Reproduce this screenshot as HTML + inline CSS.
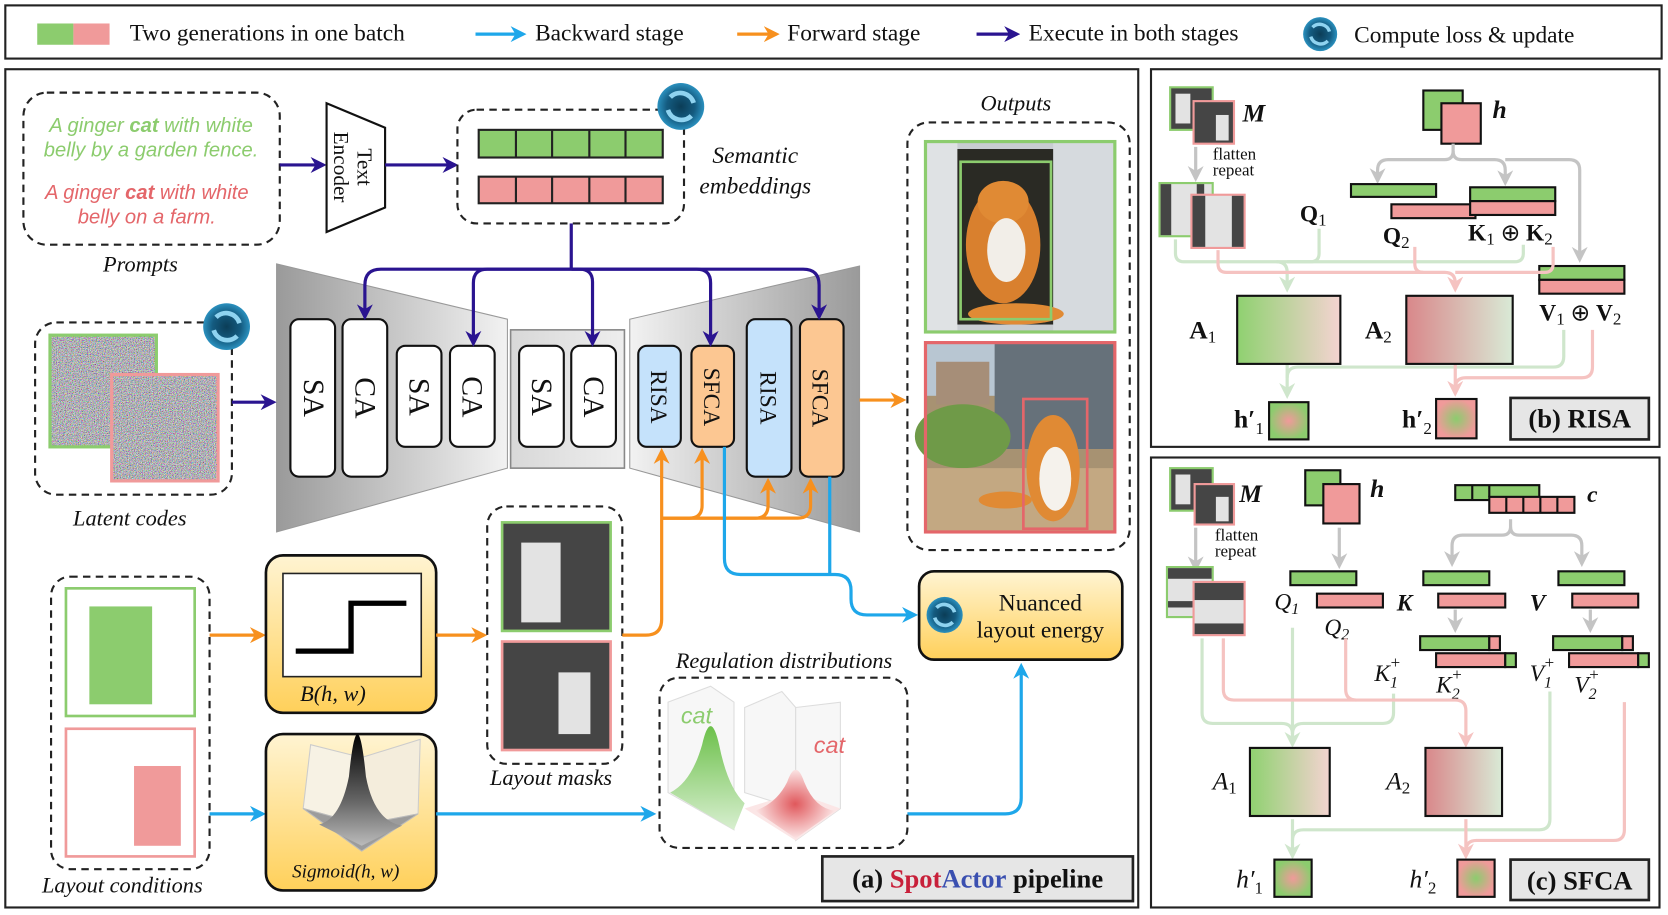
<!DOCTYPE html>
<html><head><meta charset="utf-8"><style>
html,body{margin:0;padding:0;background:#fff;width:1668px;height:915px;overflow:hidden}
svg{display:block}
text{font-family:"Liberation Serif",serif;fill:#111}
.it{font-style:italic}
.hand{font-family:"Liberation Sans",sans-serif;font-style:italic}
</style></head><body>
<svg width="1668" height="915" viewBox="0 0 1568 860" xmlns="http://www.w3.org/2000/svg">
<defs>
<marker id="mn" viewBox="0 0 10 10" refX="8" refY="5" markerWidth="5" markerHeight="5" orient="auto-start-reverse"><path d="M0,0L10,5L0,10L3,5z" fill="#2a1490"/></marker>
<marker id="mo" viewBox="0 0 10 10" refX="8" refY="5" markerWidth="5" markerHeight="5" orient="auto-start-reverse"><path d="M0,0L10,5L0,10L3,5z" fill="#f7901e"/></marker>
<marker id="mb" viewBox="0 0 10 10" refX="8" refY="5" markerWidth="5" markerHeight="5" orient="auto-start-reverse"><path d="M0,0L10,5L0,10L3,5z" fill="#1ea7ea"/></marker>
<marker id="mg" viewBox="0 0 10 10" refX="8" refY="5" markerWidth="5" markerHeight="5" orient="auto-start-reverse"><path d="M0,0L10,5L0,10L3,5z" fill="#c4c4c4"/></marker>
<marker id="mlg" viewBox="0 0 10 10" refX="8" refY="5" markerWidth="5" markerHeight="5" orient="auto-start-reverse"><path d="M0,0L10,5L0,10L3,5z" fill="#cfe6cc"/></marker>
<marker id="mlp" viewBox="0 0 10 10" refX="8" refY="5" markerWidth="5" markerHeight="5" orient="auto-start-reverse"><path d="M0,0L10,5L0,10L3,5z" fill="#f5c3c1"/></marker>
<linearGradient id="gl" x1="0" x2="1"><stop offset="0" stop-color="#9a9a9a"/><stop offset="1" stop-color="#f2f2f2"/></linearGradient>
<linearGradient id="gr" x1="1" x2="0"><stop offset="0" stop-color="#9a9a9a"/><stop offset="1" stop-color="#f2f2f2"/></linearGradient>
<linearGradient id="gm" x1="0" x2="1"><stop offset="0" stop-color="#d8d8d8"/><stop offset="1" stop-color="#eeeeee"/></linearGradient>
<linearGradient id="gy" x1="0" y1="0" x2="0" y2="1"><stop offset="0" stop-color="#fff4d2"/><stop offset="1" stop-color="#ffd05a"/></linearGradient>
<linearGradient id="ga1" x1="0" x2="1"><stop offset="0" stop-color="#8fd170"/><stop offset="1" stop-color="#f4d3d1"/></linearGradient>
<linearGradient id="ga2" x1="0" x2="1"><stop offset="0" stop-color="#d9878a"/><stop offset="1" stop-color="#d9ead6"/></linearGradient>
<radialGradient id="rh1"><stop offset="0" stop-color="#f09a9a"/><stop offset="1" stop-color="#8ccc6e"/></radialGradient>
<radialGradient id="rh2"><stop offset="0" stop-color="#8ccc6e"/><stop offset="1" stop-color="#f09a9a"/></radialGradient>
<radialGradient id="ric"><stop offset="0" stop-color="#0b3d57"/><stop offset="0.6" stop-color="#145b80"/><stop offset="1" stop-color="#2b91bf"/></radialGradient>
<linearGradient id="gpk" x1="0" y1="0" x2="0" y2="1"><stop offset="0" stop-color="#000"/><stop offset="0.6" stop-color="#666"/><stop offset="1" stop-color="#bbb"/></linearGradient>
<linearGradient id="ggr" x1="0" y1="0" x2="0" y2="1"><stop offset="0" stop-color="#6cc04a"/><stop offset="1" stop-color="#d8efd0"/></linearGradient>
<radialGradient id="gpr"><stop offset="0" stop-color="#e0585c"/><stop offset="1" stop-color="#fbe4e4"/></radialGradient>
<filter id="noise" x="0" y="0" width="100%" height="100%"><feTurbulence type="fractalNoise" baseFrequency="1.2" numOctaves="1" seed="3"/><feColorMatrix type="matrix" values="1.8 0 0 0 -0.45  0 1.8 0 0 -0.45  0 0 1.8 0 -0.42  0 0 0 0 1"/></filter>
<g id="icon"><circle r="20" fill="url(#ric)"/><path d="M-9,-8 A12,12 0 0 1 11,-3" stroke="#8fd3f0" stroke-width="4" fill="none"/><path d="M9,8 A12,12 0 0 1 -11,3" stroke="#8fd3f0" stroke-width="4" fill="none"/></g>
</defs>

<!-- legend -->
<rect x="5" y="5" width="1557" height="50" fill="#fff" stroke="#222" stroke-width="2"/>
<rect x="35" y="22" width="34" height="20" fill="#8ccc6e"/><rect x="69" y="22" width="34" height="20" fill="#f09a9a"/>
<text x="122" y="38" font-size="22">Two generations in one batch</text>
<line x1="447" y1="32" x2="492" y2="32" stroke="#1ea7ea" stroke-width="3" marker-end="url(#mb)"/>
<text x="503" y="38" font-size="22">Backward stage</text>
<line x1="693" y1="32" x2="730" y2="32" stroke="#f7901e" stroke-width="3" marker-end="url(#mo)"/>
<text x="740" y="38" font-size="22">Forward stage</text>
<line x1="918" y1="32" x2="956" y2="32" stroke="#2a1490" stroke-width="3" marker-end="url(#mn)"/>
<text x="967" y="38" font-size="22">Execute in both stages</text>
<use href="#icon" transform="translate(1241,32) scale(0.8)"/>
<text x="1273" y="40" font-size="22">Compute loss &amp; update</text>

<!-- panels -->
<rect x="5" y="65" width="1065" height="788" fill="none" stroke="#222" stroke-width="2"/>
<rect x="1082" y="65" width="478" height="355" fill="none" stroke="#222" stroke-width="2"/>
<rect x="1082" y="430" width="478" height="423" fill="none" stroke="#222" stroke-width="2"/>

<!-- prompts -->
<rect x="22" y="87" width="241" height="143" rx="22" fill="none" stroke="#222" stroke-width="2" stroke-dasharray="7,5"/>
<text x="142" y="124" font-size="19" class="hand" text-anchor="middle" style="fill:#8ccc6e">A ginger <tspan font-weight="bold">cat</tspan> with white</text>
<text x="142" y="147" font-size="19" class="hand" text-anchor="middle" style="fill:#8ccc6e">belly by a garden fence.</text>
<text x="138" y="187" font-size="19" class="hand" text-anchor="middle" style="fill:#e4666a">A ginger <tspan font-weight="bold">cat</tspan> with white</text>
<text x="138" y="210" font-size="19" class="hand" text-anchor="middle" style="fill:#e4666a">belly on a farm.</text>
<text x="132" y="255" font-size="21" class="it" text-anchor="middle">Prompts</text>
<line x1="263" y1="155" x2="304" y2="155" stroke="#2a1490" stroke-width="3" marker-end="url(#mn)"/>
<polygon points="307,97 362,120 362,195 307,218" fill="#fff" stroke="#111" stroke-width="2"/>
<text transform="translate(333,157) rotate(90)" font-size="20" text-anchor="middle"><tspan x="0" dy="-3">Text</tspan><tspan x="0" dy="22">Encoder</tspan></text>
<line x1="362" y1="155" x2="428" y2="155" stroke="#2a1490" stroke-width="3" marker-end="url(#mn)"/>

<!-- semantic embeddings -->
<rect x="430" y="103" width="213" height="107" rx="18" fill="none" stroke="#222" stroke-width="2" stroke-dasharray="7,5"/>
<g stroke="#222" stroke-width="2"><rect x="450" y="122" width="173" height="26" fill="#8ccc6e"/><rect x="450" y="166" width="173" height="25" fill="#f09a9a"/>
<path d="M485,122v26M519,122v26M554,122v26M588,122v26M485,166v25M519,166v25M554,166v25M588,166v25"/></g>
<use href="#icon" transform="translate(640,100) scale(1.1)"/>
<text x="710" y="153" font-size="22" class="it" text-anchor="middle">Semantic</text>
<text x="710" y="182" font-size="22" class="it" text-anchor="middle">embeddings</text>

<!-- UNet -->
<polygon points="260,248 477,300 477,440 260,500" fill="url(#gl)" stroke="#999"/>
<rect x="480" y="310" width="107" height="130" fill="url(#gm)" stroke="#888" stroke-width="1.5"/>
<polygon points="592,300 808,250 808,500 592,440" fill="url(#gr)" stroke="#999"/>
<g stroke="#111" stroke-width="2">
<rect x="273" y="300" width="42" height="148" rx="8" fill="#fff"/>
<rect x="322" y="300" width="42" height="148" rx="8" fill="#fff"/>
<rect x="373" y="325" width="42" height="95" rx="8" fill="#fff"/>
<rect x="423" y="325" width="42" height="95" rx="8" fill="#fff"/>
<rect x="488" y="325" width="42" height="95" rx="8" fill="#fff"/>
<rect x="537" y="325" width="42" height="95" rx="8" fill="#fff"/>
<rect x="600" y="325" width="40" height="95" rx="8" fill="#c5e2fb"/>
<rect x="650" y="325" width="40" height="95" rx="8" fill="#fcc792"/>
<rect x="702" y="300" width="42" height="148" rx="8" fill="#c5e2fb"/>
<rect x="752" y="300" width="41" height="148" rx="8" fill="#fcc792"/>
</g>
<g font-size="28">
<text transform="translate(286,374) rotate(90)" text-anchor="middle">SA</text>
<text transform="translate(334,374) rotate(90)" text-anchor="middle">CA</text>
<text transform="translate(385,373) rotate(90)" text-anchor="middle">SA</text>
<text transform="translate(435,373) rotate(90)" text-anchor="middle">CA</text>
<text transform="translate(500,373) rotate(90)" text-anchor="middle">SA</text>
<text transform="translate(549,373) rotate(90)" text-anchor="middle">CA</text>
</g>
<g font-size="22">
<text transform="translate(612,373) rotate(90)" text-anchor="middle">RISA</text>
<text transform="translate(662,373) rotate(90)" text-anchor="middle">SFCA</text>
<text transform="translate(715,374) rotate(90)" text-anchor="middle">RISA</text>
<text transform="translate(764,374) rotate(90)" text-anchor="middle">SFCA</text>
</g>
<g stroke="#2a1490" stroke-width="3" fill="none">
<path d="M537,210V253"/>
<path d="M537,253H358q-15,0 -15,15V298" marker-end="url(#mn)"/>
<path d="M537,253H458q-13,0 -13,13V323" marker-end="url(#mn)"/>
<path d="M537,253H545q12,0 12,12V323" marker-end="url(#mn)"/>
<path d="M537,253H655q13,0 13,13V323" marker-end="url(#mn)"/>
<path d="M537,253H755q15,0 15,15V298" marker-end="url(#mn)"/>
</g>

<!-- latent codes -->
<rect x="33" y="303" width="185" height="162" rx="20" fill="none" stroke="#222" stroke-width="2" stroke-dasharray="7,5"/>
<rect x="47" y="315" width="100" height="105" filter="url(#noise)"/><rect x="47" y="315" width="100" height="105" fill="none" stroke="#8ccc6e" stroke-width="3"/>
<rect x="105" y="352" width="100" height="100" filter="url(#noise)"/><rect x="105" y="352" width="100" height="100" fill="none" stroke="#f09a9a" stroke-width="3"/>
<use href="#icon" transform="translate(213,307) scale(1.1)"/>
<text x="122" y="494" font-size="21" class="it" text-anchor="middle">Latent codes</text>
<line x1="218" y1="378" x2="257" y2="378" stroke="#2a1490" stroke-width="3" marker-end="url(#mn)"/>
<line x1="808" y1="376" x2="849" y2="376" stroke="#f7901e" stroke-width="3" marker-end="url(#mo)"/>

<!-- outputs -->
<text x="955" y="104" font-size="21" class="it" text-anchor="middle">Outputs</text>
<rect x="853" y="115" width="209" height="402" rx="20" fill="none" stroke="#222" stroke-width="2" stroke-dasharray="7,5"/>
<rect x="870" y="133" width="178" height="179" fill="#c9cdd2"/>
<rect x="870" y="133" width="30" height="179" fill="#dfe2e4"/><rect x="990" y="133" width="58" height="179" fill="#d6dade"/>
<rect x="900" y="140" width="90" height="165" fill="#2a2a24"/>
<ellipse cx="943" cy="230" rx="35" ry="55" fill="#d9802e"/><ellipse cx="943" cy="190" rx="24" ry="20" fill="#e08a34"/><ellipse cx="946" cy="235" rx="18" ry="30" fill="#f2eee8"/>
<ellipse cx="955" cy="295" rx="45" ry="10" fill="#e08a34"/>
<rect x="870" y="133" width="178" height="179" fill="none" stroke="#8ccc6e" stroke-width="3"/>
<rect x="903" y="152" width="85" height="148" fill="none" stroke="#8ccc6e" stroke-width="2.5"/>
<rect x="870" y="322" width="178" height="178" fill="#a79272"/>
<rect x="870" y="322" width="178" height="50" fill="#b8c6d2"/><rect x="935" y="322" width="113" height="100" fill="#66717a"/>
<rect x="880" y="340" width="50" height="40" fill="#a68e78"/><ellipse cx="905" cy="410" rx="45" ry="30" fill="#6f9a48"/>
<rect x="870" y="440" width="178" height="60" fill="#c3a882"/>
<ellipse cx="990" cy="440" rx="25" ry="50" fill="#e08a34"/><ellipse cx="992" cy="450" rx="15" ry="30" fill="#f5f2ec"/><ellipse cx="945" cy="470" rx="25" ry="8" fill="#e08a34"/>
<rect x="870" y="322" width="178" height="178" fill="none" stroke="#e4666a" stroke-width="3"/>
<rect x="962" y="375" width="60" height="122" fill="none" stroke="#e4666a" stroke-width="2.5"/>

<!-- layout conditions -->
<rect x="48" y="542" width="149" height="275" rx="18" fill="none" stroke="#222" stroke-width="2" stroke-dasharray="7,5"/>
<rect x="62" y="553" width="121" height="120" fill="#fff" stroke="#8ccc6e" stroke-width="2.5"/>
<rect x="84" y="570" width="59" height="92" fill="#8ccc6e"/>
<rect x="62" y="685" width="121" height="120" fill="#fff" stroke="#f09a9a" stroke-width="2.5"/>
<rect x="126" y="720" width="44" height="75" fill="#f09a9a"/>
<text x="115" y="839" font-size="21" class="it" text-anchor="middle">Layout conditions</text>

<line x1="197" y1="597" x2="247" y2="597" stroke="#f7901e" stroke-width="3" marker-end="url(#mo)"/>
<line x1="197" y1="765" x2="247" y2="765" stroke="#1ea7ea" stroke-width="3" marker-end="url(#mb)"/>
<rect x="250" y="522" width="160" height="148" rx="16" fill="url(#gy)" stroke="#111" stroke-width="2.5"/>
<rect x="266" y="539" width="130" height="97" fill="#fff" stroke="#222" stroke-width="1.5"/>
<path d="M278,612H330V567H382" stroke="#000" stroke-width="5" fill="none"/>
<text x="313" y="659" font-size="21" class="it" text-anchor="middle">B(h, w)</text>
<line x1="410" y1="597" x2="455" y2="597" stroke="#f7901e" stroke-width="3" marker-end="url(#mo)"/>

<rect x="250" y="690" width="160" height="147" rx="16" fill="url(#gy)" stroke="#111" stroke-width="2.5"/>
<polygon points="285,760 292,700 340,712 340,775" fill="#f7f2e4" stroke="#ccc"/>
<polygon points="340,712 395,695 393,765 340,775" fill="#f4eddc" stroke="#ccc"/>
<polygon points="285,760 340,775 393,765 340,800" fill="#9c9c9c" stroke="#bbb"/>
<path d="M300,775 Q320,770 328,730 Q336,650 344,730 Q352,772 378,776 L340,795 Z" fill="url(#gpk)"/>
<text x="325" y="825" font-size="18" class="it" text-anchor="middle">Sigmoid(h, w)</text>
<line x1="410" y1="765" x2="614" y2="765" stroke="#1ea7ea" stroke-width="3" marker-end="url(#mb)"/>

<!-- layout masks -->
<rect x="458" y="476" width="127" height="242" rx="18" fill="none" stroke="#222" stroke-width="2" stroke-dasharray="7,5"/>
<rect x="472" y="491" width="102" height="102" fill="#454545" stroke="#8ccc6e" stroke-width="2.5"/>
<rect x="490" y="510" width="37" height="75" fill="#e3e3e3"/>
<rect x="472" y="603" width="102" height="102" fill="#454545" stroke="#f09a9a" stroke-width="2.5"/>
<rect x="525" y="632" width="30" height="58" fill="#e3e3e3"/>
<text x="518" y="738" font-size="21" class="it" text-anchor="middle">Layout masks</text>

<!-- orange feedback -->
<g stroke="#f7901e" stroke-width="3" fill="none">
<path d="M585,597h22q15,0 15,-15V424" marker-end="url(#mo)"/>
<path d="M622,487H648q12,0 12,-12V424" marker-end="url(#mo)"/>
<path d="M622,487H710q12,0 12,-12V452" marker-end="url(#mo)"/>
<path d="M622,487H750q12,0 12,-12V452" marker-end="url(#mo)"/>
</g>
<!-- blue backward -->
<g stroke="#1ea7ea" stroke-width="3" fill="none">
<path d="M681,420V525q0,15 15,15H785q15,0 15,15V563q0,15 15,15H860" marker-end="url(#mb)"/>
<path d="M780,448V540"/>
<path d="M853,765H945q15,0 15,-15V626" marker-end="url(#mb)"/>
</g>
<rect x="864" y="537" width="191" height="83" rx="14" fill="url(#gy)" stroke="#111" stroke-width="2.5"/>
<use href="#icon" transform="translate(888,578) scale(0.85)"/>
<text x="978" y="574" font-size="22" text-anchor="middle">Nuanced</text>
<text x="978" y="599" font-size="22" text-anchor="middle">layout energy</text>

<!-- regulation distributions -->
<text x="737" y="628" font-size="21" class="it" text-anchor="middle">Regulation distributions</text>
<rect x="620" y="637" width="233" height="160" rx="18" fill="none" stroke="#222" stroke-width="2" stroke-dasharray="7,5"/>
<g stroke="#ddd" stroke-width="1" fill="#f7f7f7">
<polygon points="628,660 668,645 690,660 690,780 628,745"/>
<polygon points="700,665 735,650 748,665 748,760 700,745"/>
<polygon points="748,665 790,660 790,760 748,790"/>
</g>
<path d="M630,745 Q650,735 660,700 Q668,665 676,700 Q684,740 700,755 L690,780 Z" fill="url(#ggr)"/>
<text x="640" y="680" font-size="22" class="hand" style="fill:#8ccc6e">cat</text>
<polygon points="700,760 748,745 790,760 748,790" fill="#fbe6e6"/>
<path d="M710,762 Q730,755 740,735 Q748,712 756,735 Q766,760 785,762 L748,788 Z" fill="url(#gpr)"/>
<text x="765" y="708" font-size="22" class="hand" style="fill:#e4666a">cat</text>

<rect x="773" y="805" width="292" height="42" fill="#e6e6e6" stroke="#222" stroke-width="2.5"/>
<text x="919" y="834" font-size="25" font-weight="bold" text-anchor="middle">(a) <tspan style="fill:#c8203a">Spot</tspan><tspan style="fill:#3a4fb0">Actor</tspan> pipeline</text>

<!-- ===== panel b ===== -->
<g stroke-width="2">
<rect x="1100" y="82" width="40" height="40" fill="#454545" stroke="#8ccc6e"/><rect x="1105" y="88" width="14" height="28" fill="#e3e3e3"/>
<rect x="1122" y="95" width="38" height="40" fill="#454545" stroke="#f09a9a"/><rect x="1143" y="108" width="12" height="24" fill="#e3e3e3"/>
</g>
<text x="1168" y="114" font-size="24" font-weight="bold" class="it">M</text>
<line x1="1124" y1="138" x2="1124" y2="168" stroke="#c4c4c4" stroke-width="3" marker-end="url(#mg)"/>
<text x="1140" y="150" font-size="16">flatten</text><text x="1140" y="165" font-size="16">repeat</text>
<rect x="1090" y="172" width="50" height="50" fill="#e3e3e3" stroke="#8ccc6e" stroke-width="2"/><rect x="1091" y="173" width="10" height="48" fill="#454545"/><rect x="1125" y="173" width="7" height="10" fill="#454545"/>
<rect x="1120" y="183" width="50" height="50" fill="#e3e3e3" stroke="#f09a9a" stroke-width="2"/><rect x="1121" y="184" width="12" height="48" fill="#454545"/><rect x="1158" y="184" width="11" height="48" fill="#454545"/>
<rect x="1338" y="85" width="37" height="37" fill="#8ccc6e" stroke="#111" stroke-width="2"/><rect x="1355" y="97" width="37" height="38" fill="#f09a9a" stroke="#111" stroke-width="2"/>
<text x="1403" y="111" font-size="24" font-weight="bold" class="it">h</text>
<g stroke="#c4c4c4" stroke-width="3" fill="none">
<path d="M1366,135V142q0,8 -8,8H1305q-10,0 -10,10V170" marker-end="url(#mg)"/>
<path d="M1366,142q0,8 8,8H1405q10,0 10,10V172" marker-end="url(#mg)"/>
<path d="M1415,150H1475q10,0 10,10V244" marker-end="url(#mg)"/>
</g>
<rect x="1270" y="173" width="80" height="12" fill="#8ccc6e" stroke="#111" stroke-width="2"/>
<rect x="1308" y="192" width="79" height="13" fill="#f09a9a" stroke="#111" stroke-width="2"/>
<rect x="1382" y="176" width="80" height="13" fill="#8ccc6e" stroke="#111" stroke-width="2"/><rect x="1382" y="189" width="80" height="13" fill="#f09a9a" stroke="#111" stroke-width="2"/>
<text x="1222" y="208" font-size="22" font-weight="bold">Q<tspan font-size="16" dy="4" font-weight="normal">1</tspan></text>
<text x="1300" y="229" font-size="22" font-weight="bold">Q<tspan font-size="16" dy="4" font-weight="normal">2</tspan></text>
<text x="1380" y="226" font-size="22" font-weight="bold">K<tspan font-size="16" dy="4" font-weight="normal">1</tspan><tspan dy="-4" font-weight="normal"> ⊕ </tspan>K<tspan font-size="16" dy="4" font-weight="normal">2</tspan></text>
<rect x="1447" y="250" width="80" height="13" fill="#8ccc6e" stroke="#111" stroke-width="2"/><rect x="1447" y="263" width="80" height="13" fill="#f09a9a" stroke="#111" stroke-width="2"/>
<text x="1447" y="301" font-size="22" font-weight="bold">V<tspan font-size="16" dy="4" font-weight="normal">1</tspan><tspan dy="-4" font-weight="normal"> ⊕ </tspan>V<tspan font-size="16" dy="4" font-weight="normal">2</tspan></text>
<g stroke-width="3" fill="none">
<path d="M1105,225V238q0,8 8,8H1200q10,0 10,10V272" stroke="#cfe6cc" marker-end="url(#mlg)"/>
<path d="M1240,215V238q0,8 -8,8H1200" stroke="#cfe6cc"/>
<path d="M1432,230V238q0,8 -8,8H1210" stroke="#cfe6cc"/>
<path d="M1145,235V248q0,8 8,8H1358q10,0 10,10V272" stroke="#f5c3c1" marker-end="url(#mlp)"/>
<path d="M1330,232V248q0,8 8,8" stroke="#f5c3c1"/>
<path d="M1460,232V248q0,8 -8,8H1368" stroke="#f5c3c1"/>
<path d="M1210,343V372" stroke="#cfe6cc" marker-end="url(#mlg)"/>
<path d="M1470,310V335q0,10 -10,10H1220q-10,0 -10,10" stroke="#cfe6cc"/>
<path d="M1368,343V370" stroke="#f5c3c1" marker-end="url(#mlp)"/>
<path d="M1497,310V345q0,10 -10,10H1378q-10,0 -10,10" stroke="#f5c3c1"/>
</g>
<rect x="1163" y="278" width="97" height="64" fill="url(#ga1)" stroke="#111" stroke-width="2"/>
<rect x="1322" y="278" width="100" height="64" fill="url(#ga2)" stroke="#111" stroke-width="2"/>
<text x="1118" y="318" font-size="24" font-weight="bold">A<tspan font-size="16" dy="4" font-weight="normal">1</tspan></text>
<text x="1283" y="318" font-size="24" font-weight="bold">A<tspan font-size="16" dy="4" font-weight="normal">2</tspan></text>
<rect x="1193" y="378" width="37" height="35" fill="url(#rh1)" stroke="#111" stroke-width="2"/>
<rect x="1350" y="375" width="38" height="37" fill="url(#rh2)" stroke="#111" stroke-width="2"/>
<text x="1160" y="402" font-size="24" font-weight="bold">h′<tspan font-size="16" dy="6" font-weight="normal">1</tspan></text>
<text x="1318" y="402" font-size="24" font-weight="bold">h′<tspan font-size="16" dy="6" font-weight="normal">2</tspan></text>
<rect x="1420" y="374" width="130" height="39" fill="#e6e6e6" stroke="#222" stroke-width="2.5"/>
<text x="1485" y="402" font-size="25" font-weight="bold" text-anchor="middle">(b) RISA</text>

<!-- ===== panel c ===== -->
<g stroke-width="2">
<rect x="1100" y="440" width="40" height="40" fill="#454545" stroke="#8ccc6e"/><rect x="1105" y="446" width="14" height="28" fill="#e3e3e3"/>
<rect x="1123" y="455" width="37" height="38" fill="#454545" stroke="#f09a9a"/><rect x="1143" y="467" width="12" height="23" fill="#e3e3e3"/>
</g>
<text x="1165" y="472" font-size="24" font-weight="bold" class="it">M</text>
<line x1="1124" y1="496" x2="1124" y2="535" stroke="#c4c4c4" stroke-width="3" marker-end="url(#mg)"/>
<text x="1142" y="508" font-size="16">flatten</text><text x="1142" y="523" font-size="16">repeat</text>
<rect x="1097" y="533" width="43" height="47" fill="#e3e3e3" stroke="#8ccc6e" stroke-width="2"/><rect x="1098" y="534" width="41" height="10" fill="#454545"/><rect x="1098" y="565" width="41" height="6" fill="#454545"/>
<rect x="1122" y="547" width="48" height="50" fill="#e3e3e3" stroke="#f09a9a" stroke-width="2"/><rect x="1123" y="548" width="46" height="16" fill="#454545"/><rect x="1123" y="586" width="46" height="10" fill="#454545"/>
<rect x="1227" y="442" width="33" height="33" fill="#8ccc6e" stroke="#111" stroke-width="2"/><rect x="1244" y="455" width="34" height="37" fill="#f09a9a" stroke="#111" stroke-width="2"/>
<text x="1288" y="467" font-size="24" font-weight="bold" class="it">h</text>
<line x1="1259" y1="496" x2="1259" y2="532" stroke="#c4c4c4" stroke-width="3" marker-end="url(#mg)"/>
<g stroke="#111" stroke-width="2">
<rect x="1368" y="456" width="79" height="14" fill="#8ccc6e"/><rect x="1400" y="467" width="80" height="15" fill="#f09a9a"/>
<path d="M1384,456v14M1400,456v11M1416,467v15M1432,467v15M1448,467v15M1464,467v15"/>
</g>
<text x="1492" y="472" font-size="22" font-weight="bold" class="it">c</text>
<g stroke="#c4c4c4" stroke-width="3" fill="none">
<path d="M1420,488V495q0,8 -8,8H1375q-10,0 -10,10V530" marker-end="url(#mg)"/>
<path d="M1420,495q0,8 8,8H1477q10,0 10,10V530" marker-end="url(#mg)"/>
<path d="M1368,573V592" marker-end="url(#mg)"/><path d="M1495,573V592" marker-end="url(#mg)"/>
</g>
<g stroke="#111" stroke-width="2">
<rect x="1213" y="537" width="62" height="13" fill="#8ccc6e"/><rect x="1238" y="558" width="62" height="13" fill="#f09a9a"/>
<rect x="1338" y="537" width="62" height="13" fill="#8ccc6e"/><rect x="1352" y="558" width="63" height="13" fill="#f09a9a"/>
<rect x="1465" y="537" width="62" height="13" fill="#8ccc6e"/><rect x="1478" y="558" width="62" height="13" fill="#f09a9a"/>
<rect x="1335" y="598" width="65" height="13" fill="#8ccc6e"/><rect x="1400" y="598" width="10" height="13" fill="#f09a9a"/>
<rect x="1350" y="614" width="65" height="13" fill="#f09a9a"/><rect x="1415" y="614" width="10" height="13" fill="#8ccc6e"/>
<rect x="1460" y="598" width="65" height="13" fill="#8ccc6e"/><rect x="1525" y="598" width="10" height="13" fill="#f09a9a"/>
<rect x="1475" y="614" width="65" height="13" fill="#f09a9a"/><rect x="1540" y="614" width="10" height="13" fill="#8ccc6e"/>
</g>
<g font-size="22" class="it">
<text x="1198" y="573">Q<tspan font-size="15" dy="4">1</tspan></text>
<text x="1245" y="597">Q<tspan font-size="15" dy="4">2</tspan></text>
<text x="1313" y="574" font-weight="bold">K</text>
<text x="1438" y="574" font-weight="bold">V</text>
<text x="1292" y="640">K<tspan font-size="15" dy="6">1</tspan><tspan font-size="16" dx="-8" dy="-18">+</tspan></text>
<text x="1350" y="651">K<tspan font-size="15" dy="6">2</tspan><tspan font-size="16" dx="-8" dy="-18">+</tspan></text>
<text x="1438" y="640">V<tspan font-size="15" dy="6">1</tspan><tspan font-size="16" dx="-8" dy="-18">+</tspan></text>
<text x="1480" y="651">V<tspan font-size="15" dy="6">2</tspan><tspan font-size="16" dx="-8" dy="-18">+</tspan></text>
</g>
<g stroke-width="3" fill="none">
<path d="M1130,600V670q0,10 10,10H1205q10,0 10,10V700" stroke="#cfe6cc" marker-end="url(#mlg)"/>
<path d="M1215,590V690" stroke="#cfe6cc"/>
<path d="M1310,652V670q0,10 -10,10H1225q-10,0 -10,10" stroke="#cfe6cc"/>
<path d="M1150,600V648q0,10 10,10H1368q10,0 10,10V700" stroke="#f5c3c1" marker-end="url(#mlp)"/>
<path d="M1265,600V648q0,10 10,10" stroke="#f5c3c1"/>
<path d="M1215,770V805" stroke="#cfe6cc" marker-end="url(#mlg)"/>
<path d="M1457,650V770q0,10 -10,10H1225q-10,0 -10,10" stroke="#cfe6cc"/>
<path d="M1378,770V805" stroke="#f5c3c1" marker-end="url(#mlp)"/>
<path d="M1527,660V780q0,10 -10,10H1388q-10,0 -10,10" stroke="#f5c3c1"/>
</g>
<rect x="1175" y="703" width="75" height="64" fill="url(#ga1)" stroke="#111" stroke-width="2"/>
<rect x="1340" y="703" width="72" height="64" fill="url(#ga2)" stroke="#111" stroke-width="2"/>
<text x="1140" y="742" font-size="24" class="it">A<tspan font-size="16" dy="4" font-style="normal">1</tspan></text>
<text x="1303" y="742" font-size="24" class="it">A<tspan font-size="16" dy="4" font-style="normal">2</tspan></text>
<rect x="1198" y="808" width="35" height="35" fill="url(#rh1)" stroke="#111" stroke-width="2"/>
<rect x="1370" y="808" width="35" height="35" fill="url(#rh2)" stroke="#111" stroke-width="2"/>
<text x="1162" y="834" font-size="24" class="it">h′<tspan font-size="16" dy="6" font-style="normal">1</tspan></text>
<text x="1325" y="834" font-size="24" class="it">h′<tspan font-size="16" dy="6" font-style="normal">2</tspan></text>
<rect x="1420" y="808" width="130" height="38" fill="#e6e6e6" stroke="#222" stroke-width="2.5"/>
<text x="1485" y="836" font-size="25" font-weight="bold" text-anchor="middle">(c) SFCA</text>
</svg>
</body></html>
